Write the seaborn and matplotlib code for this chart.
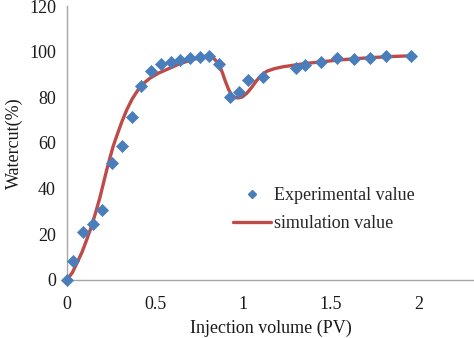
import numpy as np
import pandas as pd
import matplotlib
matplotlib.use("Agg")
import matplotlib.pyplot as plt
import seaborn as sns
from matplotlib.lines import Line2D

# Experimental data
exp_x = [0.0, 0.036, 0.093, 0.150, 0.201, 0.254, 0.311, 0.367, 0.420, 0.477,
         0.532, 0.589, 0.642, 0.699, 0.756, 0.809, 0.864, 0.928, 0.976, 1.027,
         1.115, 1.299, 1.354, 1.443, 1.534, 1.631, 1.722, 1.813, 1.955]
exp_y = [0.0, 8.3, 21.0, 24.3, 30.5, 51.3, 58.7, 71.6, 85.0, 91.6,
         94.6, 95.6, 96.6, 97.4, 97.9, 98.4, 94.6, 80.4, 82.5, 87.5,
         89.0, 92.8, 94.1, 95.5, 97.2, 96.9, 97.2, 98.2, 98.4]

# Simulation curve
sim_x = [0.0, 0.03, 0.055, 0.085, 0.112, 0.135, 0.159, 0.185, 0.206, 0.225,
         0.244, 0.262, 0.282, 0.31, 0.339, 0.37, 0.405, 0.44, 0.472, 0.52,
         0.585, 0.64, 0.699, 0.75, 0.803, 0.83, 0.86, 0.88, 0.898, 0.918,
         0.936, 0.955, 0.973, 0.995, 1.021, 1.05, 1.078, 1.105, 1.135, 1.18,
         1.229, 1.3, 1.362, 1.45, 1.55, 1.65, 1.75, 1.85, 1.95]
sim_y = [0.0, 3.0, 7.0, 12.0, 17.5, 22.5, 28.5, 35.5, 42.0, 48.0,
         53.5, 58.5, 63.0, 69.0, 74.5, 79.3, 83.5, 86.5, 88.5, 90.7,
         92.9, 94.8, 96.3, 97.4, 98.3, 97.5, 95.0, 91.5, 87.5, 83.5,
         81.0, 80.0, 79.8, 80.2, 81.8, 84.5, 87.5, 89.8, 91.5, 92.7,
         93.5, 94.3, 95.0, 95.7, 96.5, 97.1, 97.6, 98.0, 98.3]

x_ticks = [0, 0.5, 1, 1.5, 2]
x_tick_labels = ["0", "0.5", "1", "1.5", "2"]
y_ticks = [0, 20, 40, 60, 80, 100, 120]

sns.set_theme(style="white")
plt.rcParams["font.family"] = ["Liberation Serif", "DejaVu Serif"]

fig = plt.figure(figsize=(4.74, 3.38), dpi=100)
ax = fig.add_axes([0.1414, 0.173, 0.8586, 0.808])

exp_df = pd.DataFrame({"x": exp_x, "y": exp_y})
sim_df = pd.DataFrame({"x": sim_x, "y": sim_y})

red = "#BE4B48"
blue = "#4A7EBB"

sns.lineplot(data=sim_df, x="x", y="y", ax=ax, color=red, linewidth=2.4,
             sort=False, zorder=2)
sns.scatterplot(data=exp_df, x="x", y="y", ax=ax, marker="D", color=blue,
                s=38, edgecolor=blue, linewidth=0.5, zorder=3, clip_on=False)

ax.set_xlim(0, 2.3125)
ax.set_ylim(0, 120)
ax.set_xticks(x_ticks)
ax.set_xticklabels(x_tick_labels)
ax.set_yticks(y_ticks)

for s in ["top", "right"]:
    ax.spines[s].set_visible(False)
for s in ["left", "bottom"]:
    ax.spines[s].set_color("#A6A6A6")
    ax.spines[s].set_linewidth(1.0)

ax.tick_params(axis="both", direction="out", length=5, width=1,
               color="#A6A6A6", labelsize=13, labelcolor="#1a1a1a", pad=3)
ax.tick_params(axis="x", pad=7)

ax.set_xlabel("Injection volume (PV)", fontsize=13, color="#1a1a1a", labelpad=5)
ax.set_ylabel("Watercut(%)", fontsize=13, color="#1a1a1a", labelpad=4)

handles = [
    Line2D([], [], marker="D", color=blue, linestyle="none", markersize=4.5),
    Line2D([], [], color=red, linewidth=2.4),
]
leg = ax.legend(handles, ["Experimental value", "simulation value"],
                loc="upper left", bbox_to_anchor=(233 / 474, 1 - 187 / 338),
                bbox_transform=fig.transFigure, frameon=False, fontsize=13,
                handlelength=2.1, handletextpad=0.15, labelspacing=0.6,
                borderpad=0, borderaxespad=0)

fig.savefig("out.png", dpi=100)
